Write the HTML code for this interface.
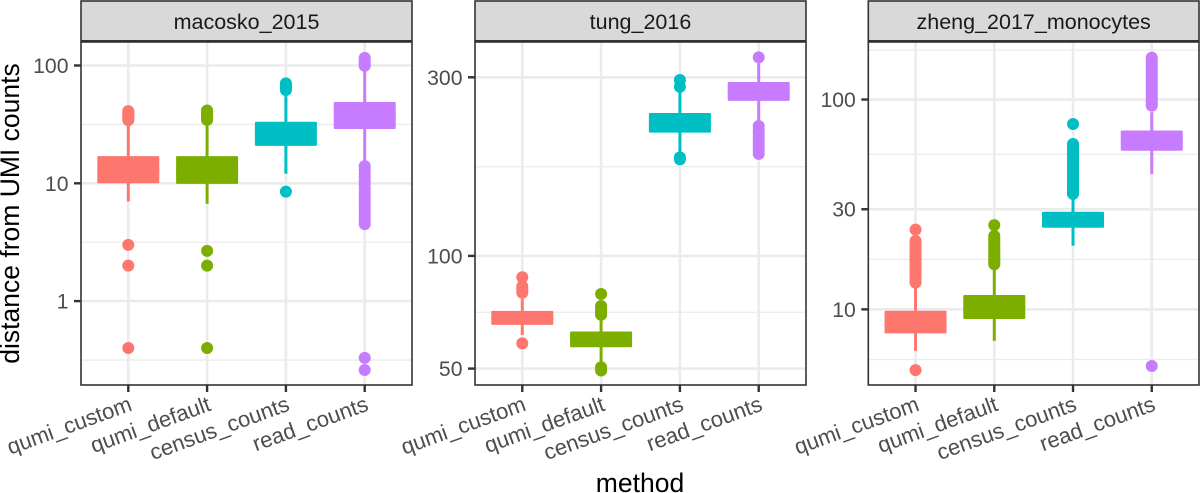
<!DOCTYPE html>
<html lang="en">
<head>
<meta charset="utf-8">
<title>Distance from UMI counts by method</title>
<style>
html,body{margin:0;padding:0;background:#fff;width:1200px;height:493px;overflow:hidden}
svg{display:block;font-family:"Liberation Sans",Arial,sans-serif;filter:blur(0.3px)}
</style>
</head>
<body>
<svg id="chart" xmlns="http://www.w3.org/2000/svg" width="1200" height="493" viewBox="0 0 1200 493">
  <text transform="translate(19,213.5) rotate(-90)" text-anchor="middle" font-size="26.5" fill="#000">distance from UMI counts</text>
  <text x="640" y="492" text-anchor="middle" font-size="26.5" fill="#000">method</text>
</svg>
<script>
const categories = ['qumi_custom', 'qumi_default', 'census_counts', 'read_counts'];
const colors = ['#FE776F', '#7CAE00', '#00BFC4', '#C77CFF'];

const macoskoTicks = [1, 10, 100];
const macoskoTickLabels = ['1', '10', '100'];
const macoskoMinor = [0.316, 3.16, 31.6];
const macoskoDomain = [0.194, 158.3];
const macoskoQ1 = [10, 9.9, 20.8, 28.9];
const macoskoMedian = [13, 13, 27, 39];
const macoskoQ3 = [17, 17, 33.3, 49];
const macoskoLow = [7, 6.7, 12.06, 15];
const macoskoHigh = [32, 32, 55, 90];
const macoskoOutliers = [
  [0.4, 2, 3, 34.4, 35.5, 36.5, 37.5, 38.5, 39.5, 40.3, 41],
  [0.4, 2, 2.67, 34.5, 35.5, 36.5, 37.5, 38.5, 39.5, 40.5, 41.5],
  [8.5, 62, 64, 66, 68, 70.5],
  [0.26, 0.33, 4.5, 4.8, 5.1, 5.5, 5.9, 6.3, 6.8, 7.3, 7.8, 8.4, 9, 9.7, 10.4, 11.2, 12, 13, 14, 99.5, 103, 107, 111, 116]
];

const tungTicks = [50, 100, 300];
const tungTickLabels = ['50', '100', '300'];
const tungMinor = [70.7, 173];
const tungDomain = [45.2, 372.7];
const tungQ1 = [65.4, 57, 213.4, 259.4];
const tungMedian = [68, 60, 227, 275];
const tungQ3 = [71.3, 62.8, 240.8, 291.5];
const tungLow = [61.5, 52, 189, 228];
const tungHigh = [76.8, 67.5, 274, 327];
const tungOutliers = [
  [58.4, 79.7, 80.7, 81.8, 82.9, 87.7],
  [49.4, 50, 50.4, 69.6, 70.5, 71.4, 72.4, 73.5, 79.1],
  [181, 182, 183.3, 283, 295],
  [187.3, 191, 195, 199, 203, 208, 213, 217.5, 222.4, 339]
];

const zhengTicks = [10, 30, 100];
const zhengTickLabels = ['10', '30', '100'];
const zhengMinor = [5.77, 17.3, 54.8, 172];
const zhengDomain = [4.36, 188];
const zhengQ1 = [7.68, 8.99, 24.5, 57];
const zhengMedian = [8.7, 10.2, 26.5, 63];
const zhengQ3 = [9.85, 11.7, 29.2, 71.2];
const zhengLow = [6.35, 7.08, 20.1, 44.1];
const zhengHigh = [12.6, 15.4, 33.6, 87];
const zhengOutliers = [
  [5.13, 13.4, 13.7, 14, 14.3, 14.6, 15, 15.3, 15.6, 16, 16.4, 16.8, 17.2, 17.6, 18, 18.4, 18.8, 19.3, 19.7, 20.2, 20.7, 21.2, 24],
  [16.4, 16.7, 17, 17.3, 17.7, 18.1, 18.5, 18.9, 19.3, 19.7, 20.2, 20.7, 21.2, 21.8, 22.4, 25.2],
  [35.5, 36.2, 37, 37.7, 38.5, 39.2, 40, 40.8, 41.7, 42.6, 43.5, 44.5, 45.5, 46.5, 47.5, 48.7, 50, 51.2, 52.5, 53.7, 55, 56.5, 58, 59.7, 61.4, 76.4],
  [5.37, 93.5, 95, 97, 99, 101, 103, 105, 107, 109, 111.5, 114, 116.5, 119, 121.5, 124, 126.5, 129, 132, 135, 138, 141, 144, 147, 149.5, 152, 155, 158.4]
];

const panelNames = ['macosko_2015', 'tung_2016', 'zheng_2017_monocytes'];
const panelLefts = [81, 475, 868.3];
const panelRights = [412, 806, 1199];
const panelTop = 42;
const panelBottom = 385;
const stripTop = 1;

const panels = [
  {key: 'macosko', ticks: macoskoTicks, labels: macoskoTickLabels, minor: macoskoMinor, domain: macoskoDomain, q1: macoskoQ1, med: macoskoMedian, q3: macoskoQ3, low: macoskoLow, high: macoskoHigh, out: macoskoOutliers},
  {key: 'tung', ticks: tungTicks, labels: tungTickLabels, minor: tungMinor, domain: tungDomain, q1: tungQ1, med: tungMedian, q3: tungQ3, low: tungLow, high: tungHigh, out: tungOutliers},
  {key: 'zheng', ticks: zhengTicks, labels: zhengTickLabels, minor: zhengMinor, domain: zhengDomain, q1: zhengQ1, med: zhengMedian, q3: zhengQ3, low: zhengLow, high: zhengHigh, out: zhengOutliers}
];

const svg = document.getElementById('chart');
const NS = 'http://www.w3.org/2000/svg';

function make(parent, tag, attrs, text) {
  const el = document.createElementNS(NS, tag);
  for (const k in attrs) el.setAttribute(k, attrs[k]);
  if (text !== undefined) el.textContent = text;
  parent.appendChild(el);
  return el;
}

function xScale(p, i) {
  const unit = (panelRights[p] - panelLefts[p]) / 4.2;
  return panelLefts[p] + (i + 0.6) * unit;
}

function yScale(panel, v) {
  const lo = Math.log10(panel.domain[0]);
  const hi = Math.log10(panel.domain[1]);
  return panelBottom - (Math.log10(v) - lo) / (hi - lo) * (panelBottom - panelTop);
}

panels.forEach(function (panel, p) {
  const left = panelLefts[p];
  const right = panelRights[p];
  const g = make(svg, 'g', {});
  
  

  panel.minor.forEach(function (v) {
    const y = yScale(panel, v);
    const line = make(g, 'line', {x1: left, x2: right, y1: y, y2: y, stroke: '#EBEBEB', 'stroke-width': 1.3});
    
    
  });
  panel.ticks.forEach(function (v, t) {
    const y = yScale(panel, v);
    const line = make(g, 'line', {x1: left, x2: right, y1: y, y2: y, stroke: '#EBEBEB', 'stroke-width': 2.6});
    
    
    const tick = make(g, 'line', {x1: left - 7, x2: left, y1: y, y2: y, stroke: '#333', 'stroke-width': 2.4});
    
    
    const label = make(g, 'text', {x: left - 12.5, y: y + 7.5, 'text-anchor': 'end', 'font-size': 21.2, fill: '#4D4D4D'}, panel.labels[t]);
    
    
  });

  categories.forEach(function (cat, i) {
    const x = xScale(p, i);
    const grid = make(g, 'line', {x1: x, x2: x, y1: panelTop, y2: panelBottom, stroke: '#EBEBEB', 'stroke-width': 2.6});
    
    
  });

  categories.forEach(function (cat, i) {
    const x = xScale(p, i);
    const color = colors[i];
    const whisker = make(g, 'line', {x1: x, x2: x, y1: yScale(panel, panel.low[i]), y2: yScale(panel, panel.high[i]), stroke: color, 'stroke-width': 3});
    
    
    const yTop = yScale(panel, panel.q3[i]);
    const yBot = yScale(panel, panel.q1[i]);
    const box = make(g, 'rect', {x: x - 31, y: yTop, width: 62, height: yBot - yTop, fill: color, rx: 1});
    
    
    const med = make(g, 'line', {x1: x - 31, x2: x + 31, y1: yScale(panel, panel.med[i]), y2: yScale(panel, panel.med[i]), stroke: color, 'stroke-width': 2.7});
    
    
    panel.out[i].forEach(function (v) {
      const dot = make(g, 'circle', {cx: x, cy: yScale(panel, v), r: 6, fill: color});
      
      
    });
    const tick = make(g, 'line', {x1: x, x2: x, y1: panelBottom, y2: panelBottom + 7, stroke: '#333', 'stroke-width': 2.4});
    
    
    const lx = x + 5;
    const ly = 410;
    const label = make(g, 'text', {x: lx, y: ly, 'text-anchor': 'end', 'font-size': 22, fill: '#4D4D4D', transform: 'rotate(-20 ' + lx + ' ' + ly + ')'}, cat);
    
    
  });

  const border = make(g, 'rect', {x: left, y: panelTop, width: right - left, height: panelBottom - panelTop, fill: 'none', stroke: '#333', 'stroke-width': 1.6});
  
  
  const strip = make(g, 'rect', {x: left, y: stripTop, width: right - left, height: panelTop - stripTop - 1, fill: '#D9D9D9', stroke: '#333', 'stroke-width': 1.6});
  
  
  const stripLine = make(g, 'line', {x1: left, x2: right, y1: 41, y2: 41, stroke: '#333', 'stroke-width': 2});
  
  
  const stripText = make(g, 'text', {x: (left + right) / 2, y: 29, 'text-anchor': 'middle', 'font-size': 21.5, fill: '#1A1A1A'}, panelNames[p]);
  
  
});
</script>
</body>
</html>
